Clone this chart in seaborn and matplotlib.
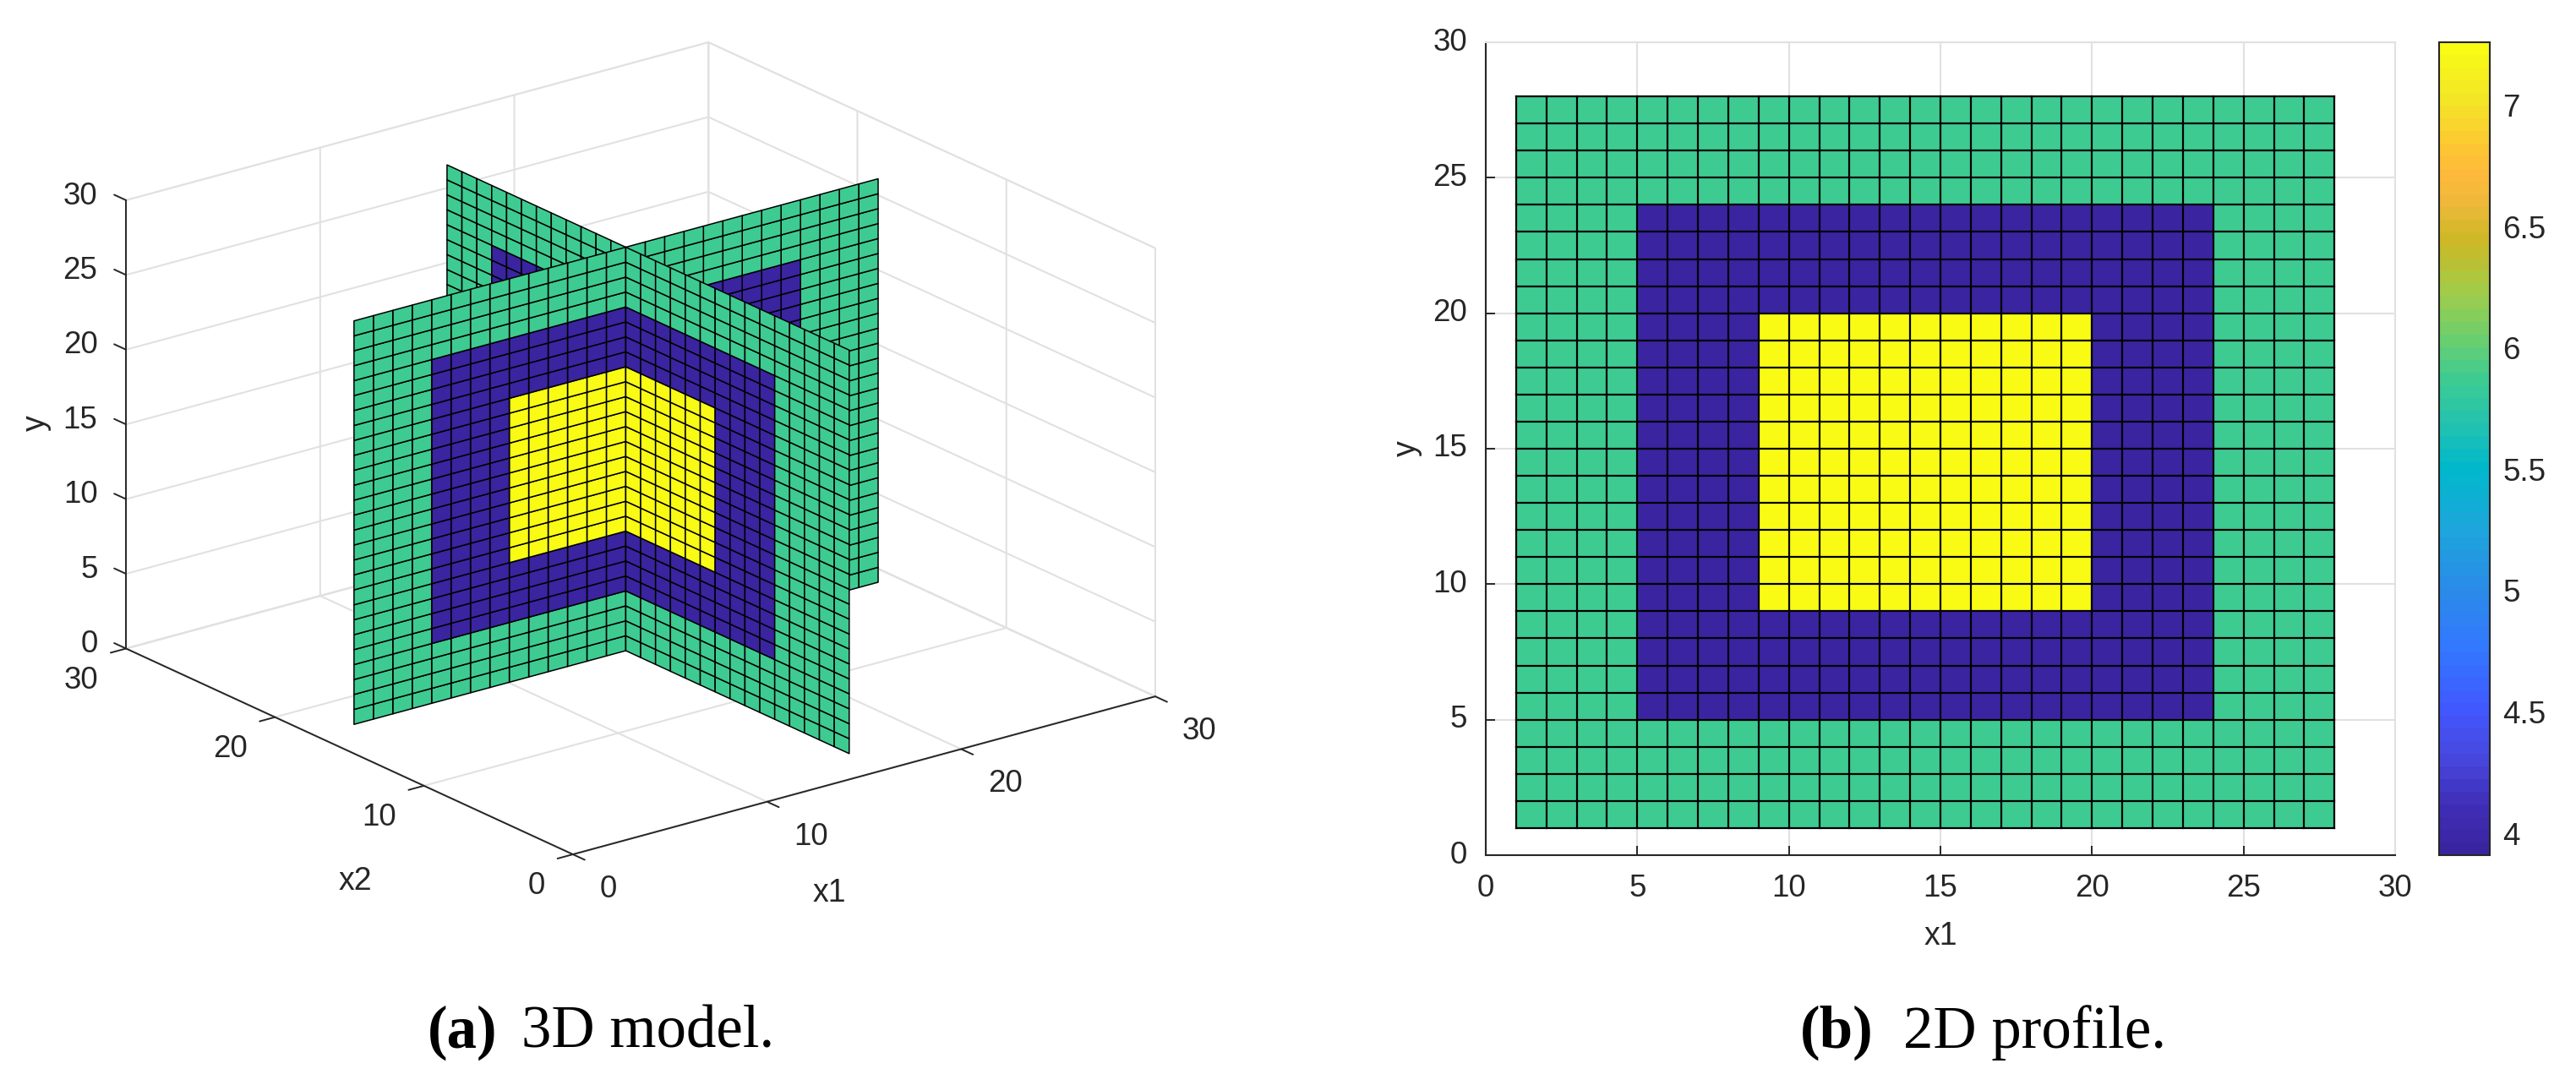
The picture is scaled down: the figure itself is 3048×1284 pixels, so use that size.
import numpy as np
import seaborn as sns
import matplotlib
matplotlib.use("Agg")
import matplotlib.pyplot as plt
from matplotlib.colors import LinearSegmentedColormap, Normalize
from matplotlib.transforms import ScaledTranslation
from mpl_toolkits.mplot3d.art3d import Poly3DCollection

# velocity levels of the three regions
outer_level = 5.89
middle_level = 3.96
inner_level = 7.26

# region bounds, cell edges in axis units (start, stop)
model_x1 = (1, 28)
model_y = (1, 28)
middle_x1 = (5, 24)
middle_y = (5, 24)
inner_x1 = (9, 20)
inner_y = (9, 20)
# the x1 slice has the same profile one cell further along x2
model_x2 = (1, 28)
middle_x2 = (6, 25)
inner_x2 = (10, 21)
slice_x1 = 15
slice_x2 = 16

axis_ticks_2d = [0, 5, 10, 15, 20, 25, 30]
axis_ticks_3d = [0, 10, 20, 30]
z_ticks_3d = [0, 5, 10, 15, 20, 25, 30]
cbar_ticks = [4, 4.5, 5, 5.5, 6, 6.5, 7]
cbar_labels = ["4", "4.5", "5", "5.5", "6", "6.5", "7"]
cbar_range = (3.91, 7.26)

# colorbar colours (value, colour)
cmap_values = [3.91, 4.1, 4.3, 4.5, 4.75, 5.0, 5.25, 5.5, 5.65, 5.89, 6.05, 6.25, 6.45, 6.6, 6.75, 6.9, 7.05, 7.26]
cmap_colors = ["#3a24a0", "#3f2fb8", "#4848e0", "#4158ff", "#3378ff", "#2a8be8", "#1da6dc", "#00b8cc", "#1dc0b5",
               "#40cc8f", "#6ccf6e", "#a2cc48", "#ccb825", "#ecb83a", "#ffb93a", "#fbcf2f", "#f3e626", "#f9fb15"]

DARK = "#262626"
GRID = "#e1e1e1"
W, H = 3048, 1284


def band_grid(a_span, b_span, a_mid, b_mid, a_in, b_in):
    # rows run along b, columns along a
    grid = np.full((b_span[1] - b_span[0], a_span[1] - a_span[0]), outer_level)
    grid[b_mid[0] - b_span[0]:b_mid[1] - b_span[0], a_mid[0] - a_span[0]:a_mid[1] - a_span[0]] = middle_level
    grid[b_in[0] - b_span[0]:b_in[1] - b_span[0], a_in[0] - a_span[0]:a_in[1] - a_span[0]] = inner_level
    return grid


def px_rect(left, top, right, bottom):
    return [left / W, (H - bottom) / H, (right - left) / W, (bottom - top) / H]


def shift_labels(axis, dx, dy, ha):
    # mplot3d only moves tick labels straight out and resets their transform in get_major_ticks
    shift = ScaledTranslation(dx / 100, dy / 100, fig.dpi_scale_trans)
    original = axis.get_major_ticks

    def shifted_ticks(numticks=None):
        ticks = original(numticks)
        for tick in ticks:
            tick.label1.set_transform(axis.axes.transData + shift)
            tick.label1.set_ha(ha)
        return ticks

    axis.get_major_ticks = shifted_ticks


sns.set_theme(style="white", rc={"axes.edgecolor": DARK, "text.color": DARK, "axes.labelcolor": DARK,
                                 "xtick.color": DARK, "ytick.color": DARK})
plt.rcParams["font.family"] = ["Liberation Sans", "DejaVu Sans"]

stops = [(v - cbar_range[0]) / (cbar_range[1] - cbar_range[0]) for v in cmap_values]
parula = LinearSegmentedColormap.from_list("parula_like", list(zip(stops, cmap_colors)), N=64)
norm = Normalize(*cbar_range)

fig = plt.figure(figsize=(W / 100, H / 100), dpi=100, facecolor="white")

# ---------- (a) 3D model ----------
ax3d = fig.add_axes(px_rect(83.6, -108.4, 1397, 1205), projection="3d", proj_type="ortho")
ax3d.patch.set_alpha(0)
ax3d.set_box_aspect((1, 1, 0.653))
ax3d.view_init(elev=20.7, azim=-127.5)
ax3d.set_xlim(0, 30)
ax3d.set_ylim(0, 30)
ax3d.set_zlim(0, 30)

plane_x2 = band_grid(model_x1, model_y, middle_x1, middle_y, inner_x1, inner_y)
plane_x1 = band_grid(model_x2, model_y, middle_x2, middle_y, inner_x2, inner_y)

verts, values = [], []
for j, y0 in enumerate(range(model_y[0], model_y[1])):
    for i, a0 in enumerate(range(model_x1[0], model_x1[1])):
        verts.append([(a0, slice_x2, y0), (a0 + 1, slice_x2, y0), (a0 + 1, slice_x2, y0 + 1), (a0, slice_x2, y0 + 1)])
        values.append(plane_x2[j, i])
    for i, a0 in enumerate(range(model_x2[0], model_x2[1])):
        verts.append([(slice_x1, a0, y0), (slice_x1, a0 + 1, y0), (slice_x1, a0 + 1, y0 + 1), (slice_x1, a0, y0 + 1)])
        values.append(plane_x1[j, i])

cells = Poly3DCollection(verts, facecolors=parula(norm(values)), edgecolors="black", linewidths=1.1, zsort="average")
ax3d.add_collection3d(cells)

ax3d.set_xticks(axis_ticks_3d)
ax3d.set_yticks(axis_ticks_3d)
ax3d.set_zticks(z_ticks_3d)
ax3d.zaxis.set_ticks_position("upper")
ax3d.zaxis._get_tickdir = lambda pos: 1  # z ticks run along x2 in the reference
for axis in (ax3d.xaxis, ax3d.yaxis, ax3d.zaxis):
    axis.pane.set_facecolor((1, 1, 1, 0))
    axis.pane.set_edgecolor(GRID)
    axis.pane.set_linewidth(1.5)
    axis.line.set_color(DARK)
    axis.line.set_linewidth(1.4)
    axis._axinfo["grid"].update(color=GRID, linewidth=1.5, linestyle="-")
    axis._axinfo["tick"].update(inward_factor=0.33, outward_factor=0.0, linewidth={True: 1.4, False: 1.4})
ax3d.zaxis._axinfo["tick"].update(inward_factor=0.0, outward_factor=0.33)
ax3d.tick_params(axis="both", labelsize=26.5, colors=DARK, pad=6)
ax3d.tick_params(axis="z", labelsize=26.5, colors=DARK, pad=4)
shift_labels(ax3d.xaxis, 17, -2, "left")
shift_labels(ax3d.yaxis, -13, 0, "right")
shift_labels(ax3d.zaxis, -4, 21, "right")
ax3d.grid(True)

# axis labels of the 3D panel sit off the axis midpoints, so they are placed by hand
fig.text(981 / W, (H - 1057) / H, "x1", fontsize=27, ha="center", va="center")
fig.text(420 / W, (H - 1043) / H, "x2", fontsize=27, ha="center", va="center")
fig.text(43 / W, (H - 501) / H, "y", fontsize=27, rotation=90, ha="center", va="center")

# ---------- (b) 2D profile ----------
ax2d = fig.add_axes(px_rect(1758, 50, 2834, 1012))
cax = fig.add_axes(px_rect(2886, 50, 2946, 1012))

# cells outside the model stay empty so the heatmap axis keeps the 0-30 range
profile = np.full((30, 30), np.nan)
profile[model_y[0]:model_y[1], model_x1[0]:model_x1[1]] = plane_x2

sns.heatmap(profile, ax=ax2d, cbar_ax=cax, cmap=parula, vmin=cbar_range[0], vmax=cbar_range[1],
            cbar_kws={"ticks": cbar_ticks})
ax2d.set_xlim(0, 30)
ax2d.set_ylim(0, 30)
# cell borders only over the model, heatmap linewidths would also outline the empty cells
ax2d.hlines(np.arange(model_y[0], model_y[1] + 1), model_x1[0], model_x1[1], color="black", linewidth=1.6,
            capstyle="projecting", zorder=2)
ax2d.vlines(np.arange(model_x1[0], model_x1[1] + 1), model_y[0], model_y[1], color="black", linewidth=1.6,
            capstyle="projecting", zorder=2)
ax2d.set_xticks(axis_ticks_2d)
ax2d.set_yticks(axis_ticks_2d)
ax2d.set_xticklabels([str(t) for t in axis_ticks_2d], rotation=0)
ax2d.set_yticklabels([str(t) for t in axis_ticks_2d], rotation=0)
ax2d.set_axisbelow(True)
ax2d.grid(True, color=GRID, linewidth=1.5)
ax2d.tick_params(axis="both", direction="in", length=8, width=1.4, labelsize=26.5, pad=16,
                 left=True, bottom=True, top=False, right=False)
ax2d.set_xlabel("x1", fontsize=27, labelpad=15)
ax2d.set_ylabel("y", fontsize=27, labelpad=9)
for side, spine in ax2d.spines.items():
    spine.set_visible(True)
    spine.set_linewidth(1.5)
    spine.set_color(DARK if side in ("left", "bottom") else GRID)

cbar = ax2d.collections[0].colorbar
cbar.set_ticks(cbar_ticks, labels=cbar_labels)
cbar.ax.tick_params(direction="in", length=7, width=1.4, labelsize=26.5, pad=11, color=DARK, right=True)
cbar.outline.set_visible(True)
cbar.outline.set_linewidth(1.5)
cbar.outline.set_edgecolor(DARK)

# ---------- sub-captions ----------
cap_y = (H - 1240) / H
serif = ["Liberation Serif", "DejaVu Serif"]
fig.text(506 / W, cap_y, "(a)", family=serif, weight="bold", fontsize=51, color="black", ha="left", va="baseline")
fig.text(617 / W, cap_y, "3D model.", family=serif, fontsize=51, color="black", ha="left", va="baseline")
fig.text(2130 / W, cap_y, "(b)", family=serif, weight="bold", fontsize=51, color="black", ha="left", va="baseline")
fig.text(2252 / W, cap_y, "2D profile.", family=serif, fontsize=51, color="black", ha="left", va="baseline")

fig.savefig("out.png", dpi=100, facecolor="white")
plt.close(fig)
